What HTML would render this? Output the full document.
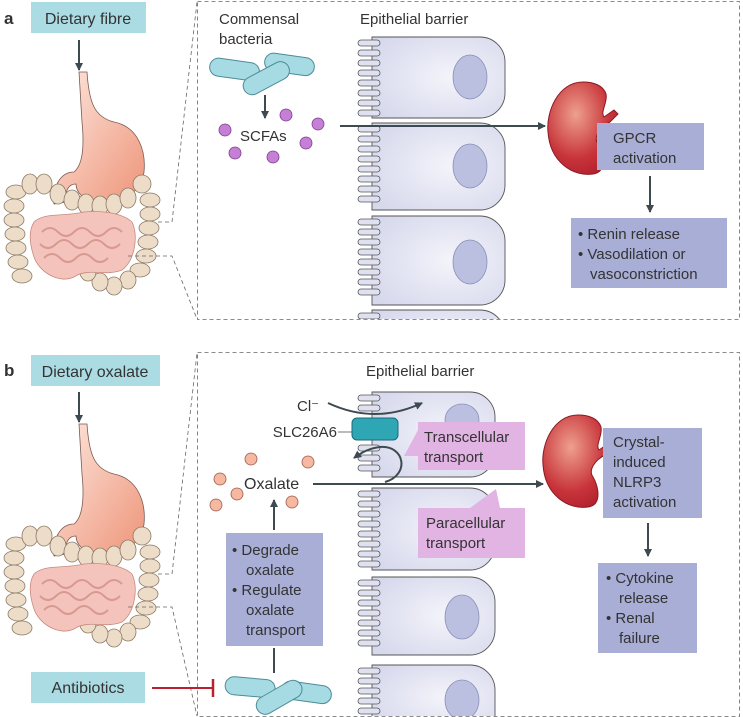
<!DOCTYPE html>
<html><head><meta charset="utf-8"><style>
body{margin:0;background:#fff}
svg{display:block}
text{font-family:"Liberation Sans",sans-serif;fill:#333}
</style></head><body>
<svg width="743" height="717" viewBox="0 0 743 717" xmlns="http://www.w3.org/2000/svg">
<defs>
<marker id="ar" markerWidth="8" markerHeight="8" refX="7" refY="4" orient="auto" markerUnits="userSpaceOnUse"><path d="M0,0 L8,4 L0,8 Z" fill="#3d4a4f"/></marker>
<radialGradient id="cellg" cx="0.6" cy="0.5" r="0.7"><stop offset="0" stop-color="#f4f4fa"/><stop offset="1" stop-color="#d6d8ec"/></radialGradient>
<radialGradient id="kid" cx="0.4" cy="0.35" r="0.8"><stop offset="0" stop-color="#eea08e"/><stop offset="0.6" stop-color="#c8343a"/><stop offset="1" stop-color="#a8182a"/></radialGradient>
<linearGradient id="stom" x1="0" y1="0" x2="1" y2="1"><stop offset="0" stop-color="#fde8e0"/><stop offset="1" stop-color="#ee9478"/></linearGradient>
<g id="bact">
<rect x="0" y="0" width="50" height="18" rx="9" fill="#a6dbe4" stroke="#4c8c98" stroke-width="1"/>
</g>
<g id="kidney">
<path d="M35,0 C10,0 -2,30 0,50 C2,80 25,95 45,92 C60,90 55,70 50,62 C45,55 52,45 62,40 L70,32 L66,28 L56,35 C52,30 60,20 58,12 C55,3 45,0 35,0 Z" fill="url(#kid)" stroke="#8a1a22" stroke-width="1"/>
</g>
<g id="gut">
<path d="M75,0 L83,0 C85,30 90,45 110,50 C135,55 142,80 140,100 C138,120 120,130 95,130 C80,130 72,120 72,112 C62,112 60,125 63,130 L50,132 C48,118 55,100 70,100 C80,92 80,70 78,50 Z" fill="url(#stom)" stroke="#7a5a50" stroke-width="0.8"/>
<g fill="#ecdcc8" stroke="#8a7a66" stroke-width="0.8">
<ellipse cx="12" cy="120" rx="10" ry="7"/><ellipse cx="10" cy="134" rx="10" ry="7"/><ellipse cx="10" cy="148" rx="10" ry="7"/><ellipse cx="11" cy="162" rx="10" ry="7"/><ellipse cx="12" cy="176" rx="10" ry="7"/><ellipse cx="14" cy="190" rx="10" ry="7"/><ellipse cx="18" cy="204" rx="10" ry="7"/>
<ellipse cx="26" cy="112" rx="8" ry="10"/><ellipse cx="40" cy="112" rx="8" ry="10"/><ellipse cx="54" cy="122" rx="8" ry="10"/><ellipse cx="68" cy="128" rx="8" ry="10"/><ellipse cx="82" cy="132" rx="8" ry="10"/><ellipse cx="96" cy="134" rx="8" ry="10"/><ellipse cx="110" cy="132" rx="8" ry="10"/><ellipse cx="124" cy="126" rx="8" ry="10"/><ellipse cx="138" cy="112" rx="9" ry="9"/>
<ellipse cx="146" cy="128" rx="10" ry="7"/><ellipse cx="146" cy="142" rx="10" ry="7"/><ellipse cx="145" cy="156" rx="10" ry="7"/><ellipse cx="144" cy="170" rx="10" ry="7"/><ellipse cx="142" cy="184" rx="10" ry="7"/><ellipse cx="136" cy="198" rx="10" ry="7"/>
<ellipse cx="124" cy="208" rx="8" ry="9"/><ellipse cx="110" cy="214" rx="8" ry="9"/><ellipse cx="96" cy="210" rx="8" ry="9"/><ellipse cx="84" cy="200" rx="8" ry="9"/>
</g>
<path d="M30,150 C40,140 60,145 80,140 C100,138 120,142 128,150 C135,165 130,190 118,198 C100,205 85,195 70,205 C55,212 35,200 30,185 C25,170 25,158 30,150 Z" fill="#f4c4bc" stroke="#c88a80" stroke-width="0.8"/>
<path d="M38,160 q8,-8 16,0 t16,0 t16,0 t16,0 t16,0 M36,172 q8,8 16,0 t16,0 t16,0 t16,0 t16,0 M40,186 q8,-8 16,0 t16,0 t16,0 t16,0" fill="none" stroke="#d89a90" stroke-width="2"/>
</g>
<clipPath id="ca"><rect x="198" y="2" width="541" height="317"/></clipPath>
<clipPath id="cb"><rect x="198" y="353" width="541" height="363"/></clipPath>
</defs>

<!-- Panel a -->
<text x="4" y="24" font-size="17" font-weight="bold" fill="#111">a</text>
<rect x="31" y="2" width="115" height="31" fill="#abdbe3"/>
<text x="88" y="24" font-size="16" text-anchor="middle">Dietary fibre</text>
<line x1="79" y1="40" x2="79" y2="70" stroke="#3d4a4f" stroke-width="2" marker-end="url(#ar)"/>
<use href="#gut" x="4" y="72"/>
<path d="M158,222 H172 L197,2 M128,256 H172 L197,319" fill="none" stroke="#666" stroke-width="0.8" stroke-dasharray="4,3"/>
<rect x="197.5" y="1.5" width="542" height="318" fill="none" stroke="#666" stroke-width="0.8" stroke-dasharray="4,3"/>
<text x="219" y="24" font-size="15">Commensal</text>
<text x="219" y="44" font-size="15">bacteria</text>
<use href="#bact" transform="translate(211,57) rotate(8)"/>
<use href="#bact" transform="translate(266,52) rotate(8)"/>
<use href="#bact" transform="translate(240,82) rotate(-28)"/>
<line x1="265" y1="95" x2="265" y2="118" stroke="#3d4a4f" stroke-width="2" marker-end="url(#ar)"/>
<text x="240" y="141" font-size="15">SCFAs</text>
<g fill="#c67fd6" stroke="#7a3f8a" stroke-width="0.8">
<circle cx="286" cy="115" r="6"/><circle cx="225" cy="130" r="6"/><circle cx="318" cy="124" r="6"/><circle cx="306" cy="143" r="6"/><circle cx="235" cy="153" r="6"/><circle cx="273" cy="157" r="6"/></g>
<text x="360" y="24" font-size="15">Epithelial barrier</text>
<g clip-path="url(#ca)" id="cellsA">
<g fill="url(#cellg)" stroke="#555" stroke-width="0.9">
<path d="M372,37 H480 A25,25 0 0 1 505,62 V93 A25,25 0 0 1 480,118 H372 Z"/>
<path d="M372,123 H480 A25,25 0 0 1 505,148 V185 A25,25 0 0 1 480,210 H372 Z"/>
<path d="M372,216 H480 A25,25 0 0 1 505,241 V280 A25,25 0 0 1 480,305 H372 Z"/>
<path d="M372,310 H480 A25,25 0 0 1 505,335 V360 H372 Z"/>
</g>
<g fill="#bcc0e0" stroke="#8a8fb8" stroke-width="0.8"><ellipse cx="470" cy="77" rx="17" ry="22"/><ellipse cx="470" cy="166" rx="17" ry="22"/><ellipse cx="470" cy="262" rx="17" ry="22"/></g>
<g fill="#dfe1f1" stroke="#555" stroke-width="0.8">
<rect x="358" y="40" width="22" height="6" rx="3"/><rect x="358" y="50" width="22" height="6" rx="3"/><rect x="358" y="60" width="22" height="6" rx="3"/><rect x="358" y="70" width="22" height="6" rx="3"/><rect x="358" y="80" width="22" height="6" rx="3"/><rect x="358" y="90" width="22" height="6" rx="3"/><rect x="358" y="100" width="22" height="6" rx="3"/><rect x="358" y="110" width="22" height="6" rx="3"/>
<rect x="358" y="126" width="22" height="6" rx="3"/><rect x="358" y="136" width="22" height="6" rx="3"/><rect x="358" y="146" width="22" height="6" rx="3"/><rect x="358" y="156" width="22" height="6" rx="3"/><rect x="358" y="166" width="22" height="6" rx="3"/><rect x="358" y="176" width="22" height="6" rx="3"/><rect x="358" y="186" width="22" height="6" rx="3"/><rect x="358" y="196" width="22" height="6" rx="3"/>
<rect x="358" y="219" width="22" height="6" rx="3"/><rect x="358" y="229" width="22" height="6" rx="3"/><rect x="358" y="239" width="22" height="6" rx="3"/><rect x="358" y="249" width="22" height="6" rx="3"/><rect x="358" y="259" width="22" height="6" rx="3"/><rect x="358" y="269" width="22" height="6" rx="3"/><rect x="358" y="279" width="22" height="6" rx="3"/><rect x="358" y="289" width="22" height="6" rx="3"/>
<rect x="358" y="313" width="22" height="6" rx="3"/>
</g>
</g>
<line x1="340" y1="126" x2="545" y2="126" stroke="#3d4a4f" stroke-width="2" marker-end="url(#ar)"/>
<use href="#kidney" x="548" y="82"/>
<rect x="597" y="123" width="107" height="47" fill="#a9aed6"/>
<text x="613" y="143" font-size="15">GPCR</text>
<text x="613" y="163" font-size="15">activation</text>
<line x1="650" y1="176" x2="650" y2="212" stroke="#3d4a4f" stroke-width="2" marker-end="url(#ar)"/>
<rect x="571" y="218" width="156" height="70" fill="#a9aed6"/>
<text x="578" y="239" font-size="15">• Renin release</text>
<text x="578" y="259" font-size="15">• Vasodilation or</text>
<text x="590" y="279" font-size="15">vasoconstriction</text>

<!-- Panel b -->
<text x="4" y="376" font-size="17" font-weight="bold" fill="#111">b</text>
<rect x="31" y="355" width="129" height="31" fill="#abdbe3"/>
<text x="95" y="377" font-size="16" text-anchor="middle">Dietary oxalate</text>
<line x1="79" y1="392" x2="79" y2="422" stroke="#3d4a4f" stroke-width="2" marker-end="url(#ar)"/>
<use href="#gut" x="4" y="424"/>
<path d="M158,574 H172 L197,353 M128,607 H172 L197,716" fill="none" stroke="#666" stroke-width="0.8" stroke-dasharray="4,3"/>
<rect x="197.5" y="352.5" width="542" height="364" fill="none" stroke="#666" stroke-width="0.8" stroke-dasharray="4,3"/>
<text x="366" y="376" font-size="15">Epithelial barrier</text>
<g clip-path="url(#cb)">
<g fill="url(#cellg)" stroke="#555" stroke-width="0.9">
<path d="M372,392 H470 A25,25 0 0 1 495,417 V452 A25,25 0 0 1 470,477 H372 Z"/>
<path d="M372,488 H470 A25,25 0 0 1 495,513 V545 A25,25 0 0 1 470,570 H372 Z"/>
<path d="M372,577 H470 A25,25 0 0 1 495,602 V630 A25,25 0 0 1 470,655 H372 Z"/>
<path d="M372,665 H470 A25,25 0 0 1 495,690 V730 H372 Z"/>
</g>
<g fill="#bcc0e0" stroke="#8a8fb8" stroke-width="0.8"><ellipse cx="462" cy="420" rx="17" ry="16"/><ellipse cx="462" cy="617" rx="17" ry="22"/><ellipse cx="462" cy="700" rx="17" ry="20"/></g>
<g fill="#dfe1f1" stroke="#555" stroke-width="0.8">
<rect x="358" y="395" width="22" height="6" rx="3"/><rect x="358" y="405" width="22" height="6" rx="3"/><rect x="358" y="445" width="22" height="6" rx="3"/><rect x="358" y="455" width="22" height="6" rx="3"/><rect x="358" y="465" width="22" height="6" rx="3"/>
<rect x="358" y="491" width="22" height="6" rx="3"/><rect x="358" y="501" width="22" height="6" rx="3"/><rect x="358" y="511" width="22" height="6" rx="3"/><rect x="358" y="521" width="22" height="6" rx="3"/><rect x="358" y="531" width="22" height="6" rx="3"/><rect x="358" y="541" width="22" height="6" rx="3"/><rect x="358" y="551" width="22" height="6" rx="3"/><rect x="358" y="561" width="22" height="6" rx="3"/>
<rect x="358" y="580" width="22" height="6" rx="3"/><rect x="358" y="590" width="22" height="6" rx="3"/><rect x="358" y="600" width="22" height="6" rx="3"/><rect x="358" y="610" width="22" height="6" rx="3"/><rect x="358" y="620" width="22" height="6" rx="3"/><rect x="358" y="630" width="22" height="6" rx="3"/><rect x="358" y="640" width="22" height="6" rx="3"/>
<rect x="358" y="668" width="22" height="6" rx="3"/><rect x="358" y="678" width="22" height="6" rx="3"/><rect x="358" y="688" width="22" height="6" rx="3"/><rect x="358" y="698" width="22" height="6" rx="3"/><rect x="358" y="708" width="22" height="6" rx="3"/>
</g>
</g>
<rect x="352" y="418" width="46" height="22" rx="5" fill="#2fa6b4" stroke="#1a6a78" stroke-width="1"/>
<text x="337" y="437" font-size="15" text-anchor="end">SLC26A6</text>
<line x1="338" y1="432" x2="352" y2="432" stroke="#555" stroke-width="0.8"/>
<text x="297" y="411" font-size="15">Cl⁻</text>
<path d="M328,403 Q375,425 422,403" fill="none" stroke="#3d4a4f" stroke-width="2" marker-end="url(#ar)"/>
<path d="M385,482 C410,475 405,445 380,447 C370,448 362,452 354,458" fill="none" stroke="#3d4a4f" stroke-width="2" marker-end="url(#ar)"/>
<g fill="#f6b8a0" stroke="#9a5a48" stroke-width="0.8">
<circle cx="251" cy="459" r="6"/><circle cx="308" cy="462" r="6"/><circle cx="220" cy="479" r="6"/><circle cx="237" cy="494" r="6"/><circle cx="216" cy="505" r="6"/><circle cx="292" cy="502" r="6"/></g>
<text x="244" y="489" font-size="16">Oxalate</text>
<line x1="313" y1="484" x2="543" y2="484" stroke="#3d4a4f" stroke-width="2" marker-end="url(#ar)"/>
<path d="M418,430 L418,456 L404,456 Z" fill="#e2b4e4"/>
<rect x="418" y="422" width="107" height="48" fill="#e2b4e4"/>
<text x="424" y="442" font-size="15">Transcellular</text>
<text x="424" y="462" font-size="15">transport</text>
<path d="M470,508 L496,489 L500,508 Z" fill="#e2b4e4"/>
<rect x="418" y="508" width="107" height="50" fill="#e2b4e4"/>
<text x="426" y="528" font-size="15">Paracellular</text>
<text x="426" y="548" font-size="15">transport</text>
<use href="#kidney" x="543" y="415"/>
<rect x="603" y="428" width="99" height="90" fill="#a9aed6"/>
<text x="613" y="447" font-size="15">Crystal-</text>
<text x="613" y="467" font-size="15">induced</text>
<text x="613" y="487" font-size="15">NLRP3</text>
<text x="613" y="507" font-size="15">activation</text>
<line x1="648" y1="523" x2="648" y2="556" stroke="#3d4a4f" stroke-width="2" marker-end="url(#ar)"/>
<rect x="598" y="563" width="99" height="90" fill="#a9aed6"/>
<text x="606" y="583" font-size="15">• Cytokine</text>
<text x="619" y="603" font-size="15">release</text>
<text x="606" y="623" font-size="15">• Renal</text>
<text x="619" y="643" font-size="15">failure</text>
<rect x="226" y="533" width="97" height="113" fill="#a9aed6"/>
<text x="232" y="555" font-size="15">• Degrade</text>
<text x="246" y="575" font-size="15">oxalate</text>
<text x="232" y="595" font-size="15">• Regulate</text>
<text x="246" y="615" font-size="15">oxalate</text>
<text x="246" y="635" font-size="15">transport</text>
<line x1="274" y1="530" x2="274" y2="500" stroke="#3d4a4f" stroke-width="2" marker-end="url(#ar)"/>
<line x1="274" y1="648" x2="274" y2="673" stroke="#3d4a4f" stroke-width="2"/>
<use href="#bact" transform="translate(226,676) rotate(5)"/>
<use href="#bact" transform="translate(283,680) rotate(8)"/>
<use href="#bact" transform="translate(253,702) rotate(-30)"/>
<rect x="31" y="672" width="114" height="31" fill="#abdbe3"/>
<text x="88" y="693" font-size="16" text-anchor="middle">Antibiotics</text>
<line x1="152" y1="688" x2="213" y2="688" stroke="#b8222e" stroke-width="2"/>
<line x1="213" y1="679" x2="213" y2="697" stroke="#b8222e" stroke-width="2.5"/>
</svg>
</body></html>
